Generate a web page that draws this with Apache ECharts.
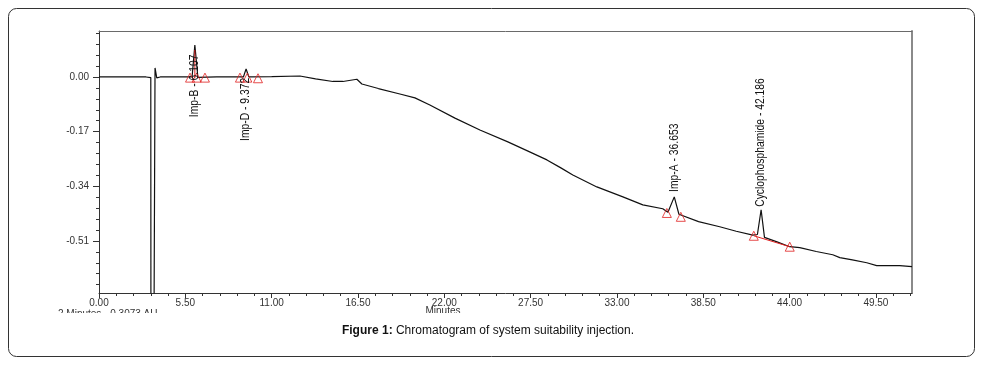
<!DOCTYPE html>
<html><head><meta charset="utf-8">
<script src="https://cdn.jsdelivr.net/npm/echarts@6/dist/echarts.min.js"></script>
<style>html,body{margin:0;padding:0;background:#fff}#c{width:981px;height:365px}</style>
</head><body><div id="c"></div><script>
// ---- data (minutes, AU) ----
const traceTime = [0, 1.5, 3.0, 3.30, 3.31, 3.49, 3.50, 3.57, 3.68, 3.9, 5.0, 5.93, 6.107, 6.30, 7.5, 9.20, 9.372, 9.55, 11.0, 12.8, 13.8, 14.9, 15.54, 16.43, 16.75, 17.8, 19.17, 20.13, 21.08, 22.68, 24.27, 26.05, 27.3, 28.54, 29.4, 30.19, 31.72, 33.38, 34.65, 35.92, 36.25, 36.653, 36.95, 37.05, 38.2, 39.55, 40.6, 41.66, 41.95, 42.186, 42.40, 43.2, 44.01, 44.65, 45.7, 46.75, 47.20, 48.0, 48.92, 49.55, 50.3, 51.02, 51.8];
const traceValue = [0.000, 0.000, 0.000, -0.002, -0.95, -0.95, -0.95, 0.028, -0.003, 0.000, 0.000, 0.000, 0.099, -0.001, 0.000, 0.000, 0.025, 0.000, 0.001, 0.003, -0.006, -0.014, -0.014, -0.007, -0.022, -0.036, -0.053, -0.065, -0.087, -0.128, -0.165, -0.202, -0.230, -0.258, -0.282, -0.305, -0.342, -0.373, -0.398, -0.410, -0.421, -0.373, -0.427, -0.432, -0.450, -0.466, -0.480, -0.492, -0.490, -0.413, -0.499, -0.513, -0.528, -0.531, -0.543, -0.553, -0.562, -0.569, -0.578, -0.587, -0.587, -0.587, -0.590];

const peakNames = ['Imp-B', 'Imp-D', 'Imp-A', 'Cyclophosphamide'];
const peakTime = [6.107, 9.372, 36.653, 42.186];
const peakHeight = [0.099, 0.025, -0.373, -0.413];

const triTime = [5.80, 6.22, 6.75, 8.98, 9.45, 10.13, 36.18, 37.07, 41.72, 44.01];
const triValue = [-0.002, -0.002, -0.002, -0.002, -0.002, -0.004, -0.423, -0.435, -0.494, -0.528];

const markBTime = [6.107, 6.107];
const markBValue = [0.084, -0.003];
const cycBaseTime = [41.72, 44.01];
const cycBaseValue = [-0.494, -0.528];

const xTickLabels = [0, 5.5, 11, 16.5, 22, 27.5, 33, 38.5, 44, 49.5];
const yTickLabels = [0, -0.17, -0.34, -0.51];
const xMinorTicks = Array.from({length: 48}, (_, i) => +(i * 1.1).toFixed(2));
const yMinorTicks = Array.from({length: 24}, (_, i) => +(0.136 - i * 0.034).toFixed(3));

const X_MIN = 0, X_MAX = 51.8, Y_MIN = -0.672, Y_MAX = 0.143;

// ---- chart ----
const zip = (a, b) => a.map((v, i) => [v, b[i]]);
const FONT = 'Liberation Sans, Arial, sans-serif';
const labelShift = [72, 72, -5, -3]; // px offset of label start from peak apex
const chart = echarts.init(document.getElementById('c'), null, {renderer: 'canvas'});

const baseX = {type: 'value', min: X_MIN, max: X_MAX, gridIndex: 0};
const baseY = {type: 'value', min: Y_MIN, max: Y_MAX, gridIndex: 0};

chart.setOption({
  animation: false,
  backgroundColor: '#fff',
  grid: {left: 99, right: 69, top: 31, bottom: 72, show: false},
  xAxis: [
    Object.assign({}, baseX, {
      position: 'bottom',
      axisLine: {show: true, onZero: false, lineStyle: {color: '#333', width: 1}},
      axisTick: {show: true, length: 5, customValues: xTickLabels, lineStyle: {color: '#333'}},
      axisLabel: {show: true, customValues: xTickLabels, margin: 5, fontSize: 10, fontFamily: FONT, color: '#333',
        formatter: v => v.toFixed(2)},
      splitLine: {show: false}
    }),
    Object.assign({}, baseX, {
      position: 'bottom',
      axisLine: {show: false, onZero: false},
      axisTick: {show: true, length: 3, customValues: xMinorTicks, lineStyle: {color: '#333'}},
      axisLabel: {show: false},
      splitLine: {show: false}
    }),
    Object.assign({}, baseX, {
      position: 'top',
      axisLine: {show: true, onZero: false, lineStyle: {color: '#6a6a6a', width: 1}},
      axisTick: {show: false}, axisLabel: {show: false}, splitLine: {show: false}
    })
  ],
  yAxis: [
    Object.assign({}, baseY, {
      position: 'left',
      axisLine: {show: true, onZero: false, lineStyle: {color: '#333', width: 1}},
      axisTick: {show: true, length: 6, customValues: yTickLabels, lineStyle: {color: '#333'}},
      axisLabel: {show: true, customValues: yTickLabels, margin: 10, fontSize: 10, fontFamily: FONT, color: '#333',
        formatter: v => v.toFixed(2)},
      splitLine: {show: false}
    }),
    Object.assign({}, baseY, {
      position: 'left',
      axisLine: {show: false, onZero: false},
      axisTick: {show: true, length: 3, customValues: yMinorTicks, lineStyle: {color: '#333'}},
      axisLabel: {show: false},
      splitLine: {show: false}
    }),
    Object.assign({}, baseY, {
      position: 'right',
      axisLine: {show: true, onZero: false, lineStyle: {color: '#8a8a8a', width: 2}},
      axisTick: {show: false}, axisLabel: {show: false}, splitLine: {show: false}
    })
  ],
  series: [
    {
      type: 'line', name: 'trace', data: zip(traceTime, traceValue),
      showSymbol: false, symbol: 'none', clip: true,
      lineStyle: {color: '#111', width: 1.2}, z: 3
    },
    {
      type: 'line', name: 'markB', data: zip(markBTime, markBValue),
      showSymbol: false, symbol: 'none', lineStyle: {color: '#e02020', width: 1}, z: 4
    },
    {
      type: 'line', name: 'cycBase', data: zip(cycBaseTime, cycBaseValue),
      showSymbol: false, symbol: 'none', lineStyle: {color: '#e02020', width: 1}, z: 4
    },
    {
      type: 'scatter', name: 'ticks', data: zip(triTime, triValue),
      symbol: 'triangle', symbolSize: 9,
      itemStyle: {color: 'rgba(0,0,0,0)', borderColor: '#e02020', borderWidth: 1}, z: 5
    },
    {
      type: 'custom', name: 'labels', clip: false, z: 6,
      data: peakTime.map((t, i) => [t, peakHeight[i]]),
      renderItem: function (params, api) {
        const i = params.dataIndex;
        const p = api.coord([api.value(0), api.value(1)]);
        return {
          type: 'text', x: p[0], y: p[1] + labelShift[i], rotation: Math.PI / 2, scaleX: 0.86,
          style: {
            text: peakNames[i] + ' - ' + peakTime[i].toFixed(3),
            fill: '#111', font: '12px "Liberation Sans", Arial, sans-serif',
            align: 'left', verticalAlign: 'middle', textAlign: 'left', textVerticalAlign: 'middle'
          }
        };
      }
    }
  ],
  graphic: [
    {type: 'rect', shape: {x: 8.5, y: 8.5, width: 966, height: 348, r: 8}, style: {fill: 'none', stroke: '#333', lineWidth: 1}, z: 1},
    {type: 'text', x: 443, y: 306, style: {text: 'Minutes', font: '10px ' + FONT, fill: '#333', textAlign: 'center', align: 'center', textVerticalAlign: 'top', verticalAlign: 'top'}, z: 10},
    {type: 'text', x: 58, y: 309, style: {text: '2 Minutes - 0.3073 AU', font: '10px ' + FONT, fill: '#333', textAlign: 'left', align: 'left', textVerticalAlign: 'top', verticalAlign: 'top'}, z: 10},
    {type: 'rect', shape: {x: 20, y: 313, width: 930, height: 9}, style: {fill: '#fff'}, z: 11},
    {type: 'text', x: 488, y: 331, style: {
      text: '{b|Figure 1:} Chromatogram of system suitability injection.',
      font: '12px ' + FONT, fill: '#111', textAlign: 'center', align: 'center', textVerticalAlign: 'middle', verticalAlign: 'middle',
      rich: {b: {fontWeight: 'bold', fontSize: 12, fontFamily: FONT, fill: '#111'}}
    }, z: 10}
  ]
});
</script></body></html>
